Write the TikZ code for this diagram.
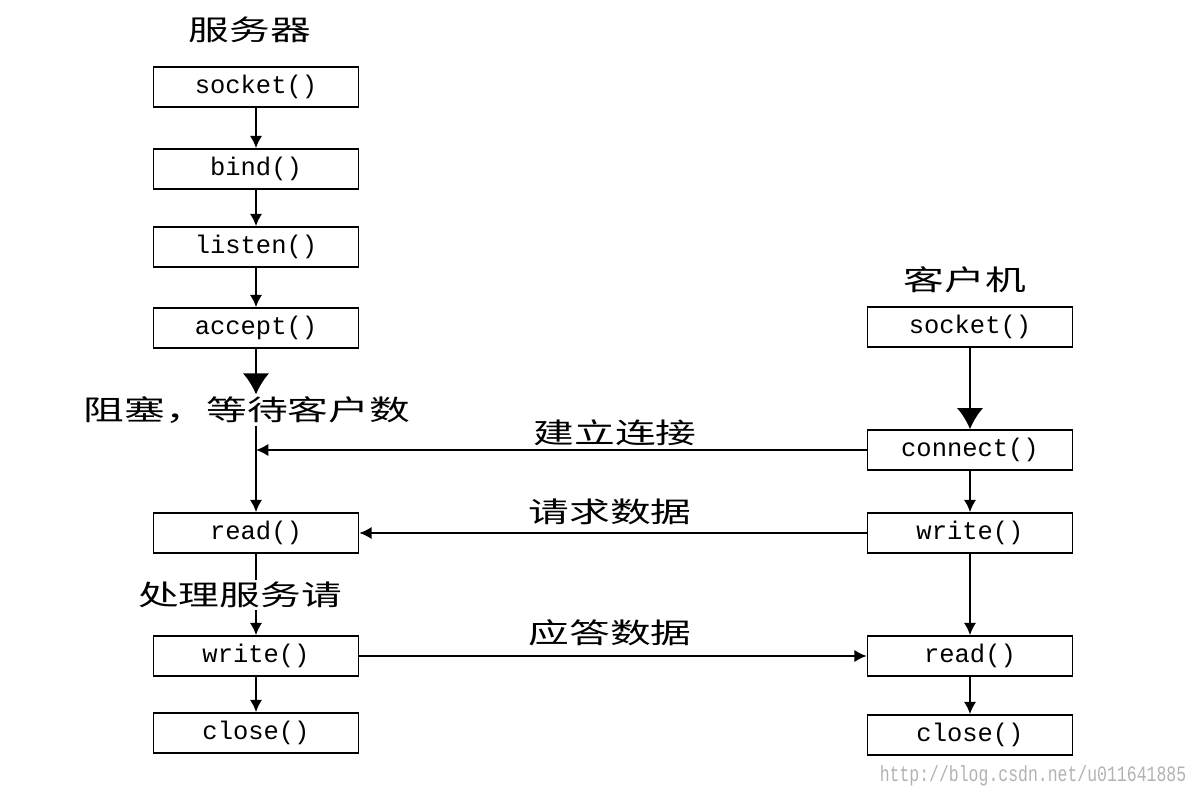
\documentclass[tikz,border=0pt]{standalone}
\usepackage{fontspec}
\setmonofont{Liberation Mono}
\newfontfamily\cjk[FakeStretch=1.45]{Noto Sans CJK SC}
\newfontfamily\markfont[FakeStretch=0.75]{Liberation Mono}
\usetikzlibrary{arrows.meta}
\tikzstyle{func} = [draw, line width=1pt, minimum width=4.1cm, minimum height=0.8cm, inner sep=0pt, font=\fontsize{14.5}{16}\selectfont\ttfamily]
\tikzstyle{zh} = [inner sep=1pt, font=\cjk\fontsize{16}{18}\selectfont]
\tikzstyle{arrow} = [line width=1pt, -{Latex[length=7pt,width=7pt]}]
\tikzstyle{bigarrow} = [line width=1.2pt, -{Latex[length=12pt,width=15pt]}]

\begin{document}
\begin{tikzpicture}[x=0.02cm, y=-0.02cm]
\useasboundingbox (0,0) rectangle (1198,797);
%server
\node[zh] (stitle) at (250,30) {服务器};
\node[func] (ssock) at (256,87) {socket()};
\node[func] (sbind) at (256,169) {bind()};
\node[func] (slisten) at (256,247) {listen()};
\node[func] (saccept) at (256,328) {accept()};
\node[zh] (block) at (247,410) {阻塞，等待客户数};
\node[func] (sread) at (256,533) {read()};
\node[zh] (proc) at (240,595) {处理服务请};
\node[func] (swrite) at (256,656) {write()};
\node[func] (sclose) at (256,733) {close()};
%client
\node[zh] (ctitle) at (965,280) {客户机};
\node[func] (csock) at (970,327) {socket()};
\node[func] (cconn) at (970,450) {connect()};
\node[func] (cwrite) at (970,533) {write()};
\node[func] (cread) at (970,656) {read()};
\node[func] (cclose) at (970,735) {close()};
%server arrows
\draw[arrow] (ssock) -- (sbind);
\draw[arrow] (sbind) -- (slisten);
\draw[arrow] (slisten) -- (saccept);
\draw[bigarrow] (saccept.south) -- (saccept.south |- block.north);
\draw[arrow] (saccept.south |- block.south) -- (sread.north);
\draw[line width=1pt] (sread.south) -- (sread.south |- proc.north);
\draw[arrow] (sread.south |- proc.south) -- (swrite.north);
\draw[arrow] (swrite) -- (sclose);
%client arrows
\draw[bigarrow] (csock) -- (cconn);
\draw[arrow] (cconn) -- (cwrite);
\draw[arrow] (cwrite) -- (cread);
\draw[arrow] (cread) -- (cclose);
%messages
\draw[arrow] (cconn.west) -- (cconn.west -| sread.north);
\node[zh] (lconn) at (615,433) {建立连接};
\draw[arrow] (cwrite.west) -- (sread.east);
\node[zh] (lreq) at (610,512) {请求数据};
\draw[arrow] (swrite.east) -- (cread.west);
\node[zh] (lans) at (610,633) {应答数据};
\node[text=black!30, font=\markfont\fontsize{12.5}{14}\selectfont] (mark) at (1033,776) {http://blog.csdn.net/u011641885};
\end{tikzpicture}
\end{document}
